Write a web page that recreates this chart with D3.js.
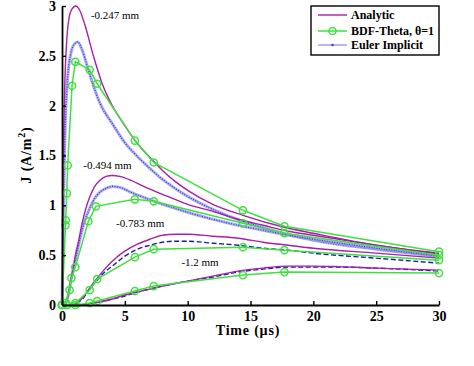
<!DOCTYPE html>
<html>
<head>
<meta charset="utf-8">
<script src="https://cdn.jsdelivr.net/npm/d3@7"></script>
<style>
html,body{margin:0;padding:0;background:#fff;}
svg{display:block;}
</style>
</head>
<body>
<script>
// ---------- data (time in µs, J in A/m^2) ----------
const xTicks = [0, 5, 10, 15, 20, 25, 30];
const yTicks = [0, 0.5, 1, 1.5, 2, 2.5, 3];
const yTickLabels = ["0", "0.5", "1", "1.5", "2", "2.5", "3"];
const depthLabels = ["-0.247 mm", "-0.494 mm", "-0.783 mm", "-1.2 mm"];
const labelAnchors = [[2.3, 2.87], [1.7, 1.36], [4.3, 0.78], [9.5, 0.39]];
const legendLabels = ["Analytic", "BDF-Theta, \u03b8=1", "Euler Implicit"];

const analytic1 = [[0,0],[0.05,0.5],[0.1,1.3],[0.2,2.1],[0.35,2.6],[0.55,2.87],[0.8,2.97],[1.1,3.0],[1.4,2.96],[1.8,2.82],[2.5,2.5],[3.2,2.22],[4,2.0],[5,1.8],[6,1.62],[7,1.48],[8,1.35],[9,1.24],[10,1.15],[12,1.01],[14.4,0.9],[17.7,0.78],[20,0.72],[25,0.6],[30,0.52]];
const analytic2 = [[0,0],[0.3,0.02],[0.5,0.1],[0.7,0.25],[0.9,0.38],[1.1,0.52],[1.3,0.63],[1.6,0.82],[1.9,0.97],[2.2,1.08],[2.6,1.19],[3.0,1.25],[3.5,1.29],[4,1.3],[4.6,1.29],[5.5,1.25],[6.5,1.19],[7.8,1.12],[9,1.06],[10,1.01],[12,0.94],[14,0.86],[16,0.8],[18,0.74],[20,0.7],[25,0.6],[30,0.51]];
const analytic3 = [[0,0],[0.8,0],[1.2,0.02],[1.7,0.08],[2.2,0.17],[2.8,0.27],[3.4,0.36],[4,0.44],[5,0.54],[6,0.61],[7,0.66],[8,0.7],[9,0.71],[10,0.71],[12,0.69],[14,0.67],[16,0.63],[18,0.6],[20,0.57],[25,0.52],[30,0.47]];
const analytic4 = [[0,0],[1.5,0],[2,0.01],[3,0.03],[4,0.06],[5,0.1],[6,0.13],[7,0.16],[8,0.19],[10,0.24],[12,0.29],[14,0.34],[16,0.37],[18,0.39],[20,0.39],[22,0.385],[25,0.37],[30,0.35]];

const euler1 = [[0,0],[0.1,0.8],[0.2,1.5],[0.4,2.2],[0.7,2.52],[1.0,2.62],[1.25,2.64],[1.6,2.56],[2,2.4],[2.5,2.2],[3,2.03],[4,1.82],[5,1.63],[6,1.49],[7,1.37],[7.8,1.28],[9,1.17],[10,1.09],[12,0.96],[14.4,0.84],[17,0.74],[20,0.65],[25,0.56],[30,0.49]];
const euler2 = [[0,0],[0.3,0.02],[0.5,0.1],[0.8,0.3],[1.2,0.53],[1.5,0.7],[1.8,0.84],[2.2,0.97],[2.6,1.07],[3.0,1.13],[3.5,1.17],[4,1.19],[4.6,1.18],[5.5,1.13],[6.5,1.08],[7.8,1.02],[9,0.97],[10,0.93],[12,0.86],[14,0.8],[16,0.75],[18,0.7],[20,0.66],[25,0.57],[30,0.49]];
const euler3 = [[0,0],[0.8,0],[1.2,0.02],[1.7,0.07],[2.2,0.16],[2.8,0.25],[3.4,0.33],[4,0.39],[5,0.49],[6,0.56],[7,0.6],[8,0.63],[9,0.64],[10,0.64],[12,0.62],[14,0.6],[16,0.57],[18,0.55],[20,0.52],[25,0.47],[30,0.42]];
const euler4 = [[0,0],[1.5,0],[2,0.01],[3,0.03],[4,0.06],[5,0.09],[6,0.13],[7,0.16],[8,0.19],[10,0.24],[12,0.28],[14,0.33],[16,0.36],[18,0.38],[20,0.38],[22,0.38],[25,0.37],[30,0.34]];

const bdf1 = [[0,0],[0.28,0.8],[0.3,0.85],[0.38,1.12],[0.45,1.4],[0.8,2.2],[1.06,2.44],[2.2,2.36],[2.8,2.22],[5.8,1.65],[7.3,1.43],[14.4,0.95],[17.7,0.79],[30,0.535]];
const bdf2 = [[0,0],[0.3,0.02],[0.6,0.15],[0.75,0.27],[1.06,0.38],[2.1,0.84],[2.7,0.99],[5.8,1.06],[7.3,1.04],[14.4,0.82],[17.7,0.72],[30,0.5]];
const bdf3 = [[0,0],[0.4,0],[1.06,0.02],[2.2,0.15],[2.8,0.26],[5.8,0.48],[7.3,0.56],[14.4,0.58],[17.7,0.55],[30,0.45]];
const bdf4 = [[0,0],[0.4,0],[1.06,0],[2.2,0.02],[2.8,0.04],[5.8,0.14],[7.3,0.19],[14.4,0.3],[17.7,0.33],[30,0.32]];

// ---------- drawing ----------
const W = 474, H = 366;
const svg = d3.select("body").append("svg").attr("width", W).attr("height", H);
const x = d3.scaleLinear().domain([0, 30]).range([62, 439]);
const y = d3.scaleLinear().domain([0, 3]).range([305, 6]);

const MAG = "#a81fa8", GRN = "#3fe03f", LBLUE = "#6f6fe6", DBLUE = "#1c1ca8";
const serif = "'Liberation Serif','Times New Roman',serif";

const smooth = d3.line().x(d => x(d[0])).y(d => y(d[1])).curve(d3.curveMonotoneX);
const straight = d3.line().x(d => x(d[0])).y(d => y(d[1]));

const g = svg.append("g");

// Euler, top two: light blue band with dotted markers
[euler1, euler2].forEach(s => {
  g.append("path").attr("d", smooth(s)).attr("fill", "none")
    .attr("stroke", "#9a9af0").attr("stroke-width", 3).attr("opacity", 0.8);
  g.append("path").attr("d", smooth(s)).attr("fill", "none")
    .attr("stroke", "#3a3ad8").attr("stroke-width", 1.2).attr("stroke-dasharray", "1,1.5");
});
// Euler, bottom two: dark blue dashed
[euler3, euler4].forEach(s => {
  g.append("path").attr("d", smooth(s)).attr("fill", "none")
    .attr("stroke", DBLUE).attr("stroke-width", 1.4).attr("stroke-dasharray", "5,2.5");
});
// Analytic
[analytic1, analytic2, analytic3, analytic4].forEach(s => {
  g.append("path").attr("d", smooth(s)).attr("fill", "none")
    .attr("stroke", MAG).attr("stroke-width", 1.4);
});
// BDF-Theta
[bdf1, bdf2, bdf3, bdf4].forEach(s => {
  g.append("path").attr("d", straight(s)).attr("fill", "none")
    .attr("stroke", GRN).attr("stroke-width", 1.5);
  g.selectAll(null).data(s).enter().append("circle")
    .attr("cx", d => x(d[0])).attr("cy", d => y(d[1])).attr("r", 3.6)
    .attr("fill", "none").attr("stroke", GRN).attr("stroke-width", 1.5);
});

// depth labels
depthLabels.forEach((t, i) => {
  svg.append("text").attr("x", x(labelAnchors[i][0])).attr("y", y(labelAnchors[i][1]))
    .attr("font-family", serif).attr("font-size", 11).attr("fill", "#000").text(t);
});

// axes
const xAxis = d3.axisBottom(x).tickValues(xTicks).tickSizeInner(-4).tickSizeOuter(0).tickPadding(6);
const yAxis = d3.axisLeft(y).tickValues(yTicks).tickFormat((d, i) => yTickLabels[i]).tickSizeInner(-4).tickSizeOuter(0).tickPadding(6);
const gx = svg.append("g").attr("transform", "translate(0,305)").call(xAxis);
const gy = svg.append("g").attr("transform", "translate(62,0)").call(yAxis);
[gx, gy].forEach(a => {
  a.select(".domain").attr("stroke", "#000").attr("stroke-width", 1.8);
  a.selectAll(".tick line").attr("stroke", "#000").attr("stroke-width", 1.4);
  a.selectAll("text").attr("font-family", serif).attr("font-size", 14)
    .attr("font-weight", "bold").attr("fill", "#000");
});
gx.selectAll("text").attr("dy", "0.71em");

// axis titles
svg.append("text").attr("x", 248).attr("y", 335).attr("text-anchor", "middle")
  .attr("font-family", serif).attr("font-size", 14).attr("font-weight", "bold")
  .attr("letter-spacing", 0.8).text("Time (\u00b5s)");
const yl = svg.append("text").attr("transform", "translate(31,155) rotate(-90)")
  .attr("text-anchor", "middle").attr("font-family", serif).attr("font-size", 14)
  .attr("font-weight", "bold").attr("letter-spacing", 0.8);
yl.append("tspan").text("J  (A/m");
yl.append("tspan").attr("font-size", 10).attr("dy", -6).text("2");
yl.append("tspan").attr("dy", 6).text(")");

// legend
const lg = svg.append("g");
lg.append("rect").attr("x", 311).attr("y", 6).attr("width", 128).attr("height", 49)
  .attr("fill", "#fff").attr("stroke", "#000").attr("stroke-width", 1.4);
const rows = [15, 31, 45];
legendLabels.forEach((t, i) => {
  const yy = rows[i];
  if (i === 0) {
    lg.append("line").attr("x1", 318).attr("x2", 347).attr("y1", yy).attr("y2", yy).attr("stroke", MAG).attr("stroke-width", 1.4);
  } else if (i === 1) {
    lg.append("line").attr("x1", 318).attr("x2", 347).attr("y1", yy).attr("y2", yy).attr("stroke", GRN).attr("stroke-width", 1.5);
    lg.append("circle").attr("cx", 332.5).attr("cy", yy).attr("r", 3.6).attr("fill", "none").attr("stroke", GRN).attr("stroke-width", 1.5);
  } else {
    lg.append("line").attr("x1", 318).attr("x2", 347).attr("y1", yy).attr("y2", yy).attr("stroke", LBLUE).attr("stroke-width", 1);
    lg.append("circle").attr("cx", 332.5).attr("cy", yy).attr("r", 1.2).attr("fill", "#3a3ad8");
  }
  lg.append("text").attr("x", 351).attr("y", yy + 4).attr("font-family", serif)
    .attr("font-size", 12).attr("font-weight", "bold").text(t);
});
</script>
</body>
</html>
